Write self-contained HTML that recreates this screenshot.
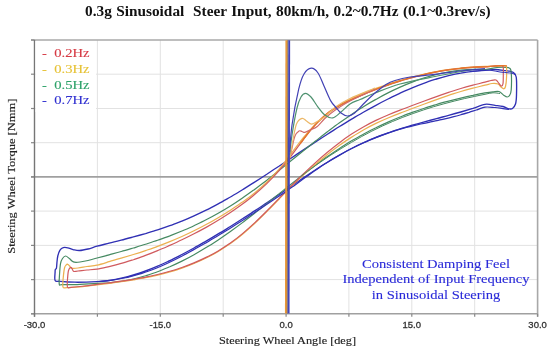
<!DOCTYPE html>
<html><head><meta charset="utf-8"><style>
html,body{margin:0;padding:0;background:#fff;}
body{width:550px;height:351px;position:relative;overflow:hidden;}
svg{position:absolute;left:0;top:0;}
.t{position:absolute;white-space:pre;font-family:"Liberation Serif",serif;line-height:1;}
#title{left:85px;top:5.1px;font-size:14px;font-weight:bold;color:#111;word-spacing:0.5px;transform:scaleX(1.094);transform-origin:0 0;}
#xl{left:219.4px;top:334.6px;font-size:11px;color:#222;-webkit-text-stroke:0.15px #222;transform:scaleX(1.115);transform-origin:0 0;}
#yl{left:0;top:0;font-size:11px;color:#222;-webkit-text-stroke:0.15px #222;transform-origin:0 0;}
.lg{font-size:12.4px;-webkit-text-stroke:0.12px currentColor;transform:scaleX(1.18);transform-origin:0 0;}
#note{font-size:12.4px;color:#2a2ad8;-webkit-text-stroke:0.1px #2a2ad8;text-align:center;transform:scaleX(1.175);transform-origin:100px 0;}
</style></head><body>
<svg width="550" height="351" viewBox="0 0 550 351">
<g stroke="#e2e2e2" stroke-width="1"><line x1="97.4" y1="40.0" x2="97.4" y2="313.8"/><line x1="160.3" y1="40.0" x2="160.3" y2="313.8"/><line x1="223.2" y1="40.0" x2="223.2" y2="313.8"/><line x1="286.1" y1="40.0" x2="286.1" y2="313.8"/><line x1="348.9" y1="40.0" x2="348.9" y2="313.8"/><line x1="411.8" y1="40.0" x2="411.8" y2="313.8"/><line x1="474.7" y1="40.0" x2="474.7" y2="313.8"/><line x1="34.5" y1="74.2" x2="537.6" y2="74.2"/><line x1="34.5" y1="108.5" x2="537.6" y2="108.5"/><line x1="34.5" y1="142.7" x2="537.6" y2="142.7"/><line x1="34.5" y1="211.1" x2="537.6" y2="211.1"/><line x1="34.5" y1="245.4" x2="537.6" y2="245.4"/><line x1="34.5" y1="279.6" x2="537.6" y2="279.6"/></g>
<line x1="31" y1="40.0" x2="537.6" y2="40.0" stroke="#a8a8a8" stroke-width="1.6"/>
<line x1="537.6" y1="40.0" x2="537.6" y2="316.8" stroke="#a8a8a8" stroke-width="1.6"/>
<line x1="31" y1="176.9" x2="537.6" y2="176.9" stroke="#a0a0a0" stroke-width="1.8"/>
<line x1="31" y1="313.8" x2="537.6" y2="313.8" stroke="#a0a0a0" stroke-width="1.6"/>
<g stroke="#888" stroke-width="1.2"><line x1="31" y1="40.0" x2="34.5" y2="40.0"/><line x1="34.5" y1="313.8" x2="34.5" y2="316.8"/><line x1="31" y1="74.2" x2="34.5" y2="74.2"/><line x1="97.4" y1="313.8" x2="97.4" y2="316.8"/><line x1="31" y1="108.5" x2="34.5" y2="108.5"/><line x1="160.3" y1="313.8" x2="160.3" y2="316.8"/><line x1="31" y1="142.7" x2="34.5" y2="142.7"/><line x1="223.2" y1="313.8" x2="223.2" y2="316.8"/><line x1="31" y1="176.9" x2="34.5" y2="176.9"/><line x1="286.1" y1="313.8" x2="286.1" y2="316.8"/><line x1="31" y1="211.1" x2="34.5" y2="211.1"/><line x1="348.9" y1="313.8" x2="348.9" y2="316.8"/><line x1="31" y1="245.4" x2="34.5" y2="245.4"/><line x1="411.8" y1="313.8" x2="411.8" y2="316.8"/><line x1="31" y1="279.6" x2="34.5" y2="279.6"/><line x1="474.7" y1="313.8" x2="474.7" y2="316.8"/><line x1="31" y1="313.8" x2="34.5" y2="313.8"/><line x1="537.6" y1="313.8" x2="537.6" y2="316.8"/></g>
<line x1="34.5" y1="40.0" x2="34.5" y2="316.8" stroke="#767676" stroke-width="1.4"/>
<rect x="35.5" y="41" width="60.5" height="71" fill="#fff"/>
<path d="M55.1,280.5 C54.3,278.9 55.1,273.8 55.1,272.0 C55.1,270.2 55.1,270.2 55.3,269.6 C55.5,269.0 56.1,269.5 56.4,268.4 C56.7,267.3 56.7,265.1 56.9,263.0 C57.1,260.9 57.3,258.1 57.8,256.0 C58.3,253.9 59.1,251.6 60.0,250.2 C60.9,248.8 62.0,248.0 63.3,247.6 C64.6,247.2 66.1,247.4 67.8,247.8 C69.5,248.2 71.7,249.4 73.7,249.8 C75.7,250.2 77.2,250.6 79.6,250.5 C82.0,250.4 85.1,249.7 88.0,249.0 C90.9,248.3 93.5,247.2 97.0,246.2 C100.5,245.2 105.1,244.2 109.1,243.2 C113.2,242.1 117.2,241.1 121.2,240.1 C125.3,239.1 129.3,238.0 133.4,236.9 C137.4,235.8 141.5,234.7 145.5,233.6 C149.5,232.4 153.6,231.2 157.6,229.9 C161.7,228.6 165.7,227.2 169.8,225.7 C173.8,224.3 177.8,222.7 181.9,221.1 C185.9,219.5 190.0,217.8 194.0,215.9 C198.0,214.1 202.1,212.2 206.1,210.2 C210.2,208.2 214.2,206.0 218.2,203.8 C222.3,201.6 226.3,199.3 230.4,197.0 C234.4,194.6 238.5,192.2 242.5,189.7 C246.5,187.2 250.6,184.7 254.6,182.1 C258.7,179.5 262.7,176.9 266.8,174.3 C270.8,171.6 274.8,168.9 278.9,166.3 C282.9,163.6 287.0,160.9 291.0,158.2 C295.0,155.5 299.1,152.8 303.1,150.1 C307.2,147.4 311.2,144.7 315.2,142.1 C319.3,139.4 323.3,136.8 327.4,134.2 C331.4,131.6 335.5,129.1 339.5,126.5 C343.5,124.0 347.6,121.6 351.6,119.1 C355.7,116.7 359.7,114.3 363.8,112.0 C367.8,109.7 371.8,107.5 375.9,105.3 C379.9,103.1 384.0,101.0 388.0,99.0 C392.0,96.9 396.1,95.0 400.1,93.1 C404.2,91.3 408.2,89.5 412.2,87.8 C416.3,86.1 420.3,84.6 424.4,83.1 C428.4,81.6 432.5,80.3 436.5,79.0 C440.5,77.8 444.6,76.7 448.6,75.7 C452.7,74.7 456.7,73.8 460.8,73.1 C464.8,72.3 468.8,71.7 472.9,71.3 C476.9,70.8 481.3,70.6 485.0,70.3 C488.7,70.1 491.7,69.5 495.0,69.5 C498.3,69.5 502.1,70.2 505.0,70.6 C507.9,71.0 510.6,70.9 512.5,72.0 C514.4,73.1 515.5,73.2 516.2,77.0 C516.9,80.8 516.6,90.5 516.5,95.0 C516.4,99.5 516.2,101.8 515.5,104.0 C514.8,106.2 513.6,107.7 512.5,108.5 C511.4,109.3 510.6,109.1 509.0,108.8 C507.4,108.5 505.3,107.1 503.0,106.5 C500.7,105.9 498.0,105.7 495.0,105.3 C492.0,104.9 488.7,103.8 485.0,104.3 C481.3,104.8 476.9,107.1 472.9,108.4 C468.8,109.6 464.8,110.8 460.8,112.0 C456.7,113.2 452.7,114.3 448.6,115.4 C444.6,116.5 440.5,117.5 436.5,118.6 C432.5,119.7 428.4,120.8 424.4,121.9 C420.3,123.0 416.3,124.1 412.2,125.2 C408.2,126.4 404.2,127.6 400.1,128.9 C396.1,130.2 392.0,131.5 388.0,133.0 C384.0,134.4 379.9,135.9 375.9,137.5 C371.8,139.1 367.8,140.8 363.8,142.7 C359.7,144.5 355.7,146.4 351.6,148.5 C347.6,150.6 343.5,152.8 339.5,155.1 C335.5,157.4 331.4,159.8 327.4,162.3 C323.3,164.8 319.3,167.4 315.2,170.0 C311.2,172.6 307.2,175.3 303.1,178.1 C299.1,180.8 295.0,183.6 291.0,186.3 C287.0,189.1 282.9,191.8 278.9,194.6 C274.8,197.3 270.8,200.1 266.8,202.8 C262.7,205.5 258.7,208.3 254.6,210.9 C250.6,213.6 246.5,216.2 242.5,218.8 C238.5,221.4 234.4,224.0 230.4,226.5 C226.3,229.0 222.3,231.5 218.2,233.9 C214.2,236.4 210.2,238.8 206.1,241.1 C202.1,243.4 198.0,245.8 194.0,248.0 C190.0,250.2 185.9,252.4 181.9,254.5 C177.8,256.6 173.8,258.7 169.8,260.6 C165.7,262.5 161.7,264.4 157.6,266.1 C153.6,267.8 149.5,269.5 145.5,271.0 C141.5,272.5 137.4,273.8 133.4,275.0 C129.3,276.3 125.3,277.3 121.2,278.2 C117.2,279.2 113.2,279.9 109.1,280.5 C105.1,281.0 102.7,281.4 97.0,281.6 C91.3,281.9 81.2,282.3 75.0,282.2 C68.8,282.1 63.3,281.6 60.0,281.3 C56.7,281.0 55.9,282.1 55.1,280.5Z" fill="none" stroke="#3030b4" stroke-width="1.35" stroke-linejoin="round"/>
<path d="M59.3,284.4 C58.9,282.8 59.3,278.4 59.5,275.0 C59.7,271.6 60.0,266.4 60.5,263.7 C61.0,260.9 61.6,259.8 62.5,258.5 C63.4,257.2 64.5,256.0 65.6,256.0 C66.7,256.0 68.2,257.7 69.3,258.5 C70.4,259.3 71.2,260.4 72.0,261.0 C72.8,261.6 73.1,262.0 74.4,262.2 C75.7,262.4 77.7,262.3 80.0,262.0 C82.3,261.7 85.2,261.2 88.0,260.5 C90.8,259.8 93.5,259.0 97.0,258.0 C100.5,257.1 105.1,255.9 109.1,254.8 C113.2,253.7 117.2,252.7 121.2,251.5 C125.3,250.4 129.3,249.2 133.4,248.0 C137.4,246.8 141.5,245.6 145.5,244.3 C149.5,243.0 153.6,241.7 157.6,240.3 C161.7,238.9 165.7,237.4 169.8,235.9 C173.8,234.3 177.8,232.7 181.9,231.0 C185.9,229.3 190.0,227.6 194.0,225.7 C198.0,223.8 202.1,221.9 206.1,219.8 C210.2,217.7 214.2,215.6 218.2,213.3 C222.3,211.0 226.3,208.6 230.4,206.0 C234.4,203.5 238.5,200.8 242.5,198.0 C246.5,195.3 250.6,192.3 254.6,189.4 C258.7,186.4 262.7,183.3 266.8,180.2 C270.8,177.0 274.8,173.8 278.9,170.6 C282.9,167.4 287.0,164.1 291.0,160.8 C295.0,157.6 299.1,154.3 303.1,151.0 C307.2,147.8 311.2,144.5 315.2,141.3 C319.3,138.1 323.3,134.9 327.4,131.8 C331.4,128.8 335.5,125.7 339.5,122.8 C343.5,119.9 347.6,117.1 351.6,114.4 C355.7,111.7 359.7,109.0 363.8,106.5 C367.8,104.0 371.8,101.6 375.9,99.4 C379.9,97.1 384.0,94.9 388.0,92.9 C392.0,90.8 396.1,88.9 400.1,87.1 C404.2,85.3 408.2,83.6 412.2,82.1 C416.3,80.5 420.3,79.1 424.4,77.8 C428.4,76.6 432.5,75.4 436.5,74.4 C440.5,73.4 444.6,72.6 448.6,71.8 C452.7,71.1 456.7,70.5 460.8,70.1 C464.8,69.7 468.8,69.4 472.9,69.3 C476.9,69.2 481.0,69.8 485.0,69.5 C489.0,69.2 493.5,67.9 497.0,67.5 C500.5,67.1 503.8,67.1 506.0,67.3 C508.2,67.5 509.1,67.5 510.0,68.5 C510.9,69.5 511.1,69.4 511.3,73.0 C511.5,76.6 511.5,86.2 511.2,90.0 C510.9,93.8 510.2,94.3 509.5,95.5 C508.8,96.7 508.1,97.0 507.2,97.0 C506.3,97.0 505.4,96.4 504.0,95.5 C502.6,94.6 500.8,92.1 499.0,91.5 C497.2,90.9 495.3,91.6 493.0,91.8 C490.7,92.0 488.4,92.3 485.0,92.9 C481.6,93.5 476.9,94.5 472.9,95.4 C468.8,96.2 464.8,97.1 460.8,98.1 C456.7,99.1 452.7,100.1 448.6,101.1 C444.6,102.2 440.5,103.3 436.5,104.5 C432.5,105.7 428.4,106.9 424.4,108.2 C420.3,109.5 416.3,110.9 412.2,112.4 C408.2,113.8 404.2,115.4 400.1,117.0 C396.1,118.6 392.0,120.3 388.0,122.1 C384.0,123.9 379.9,125.8 375.9,127.8 C371.8,129.7 367.8,131.8 363.8,134.0 C359.7,136.2 355.7,138.5 351.6,140.8 C347.6,143.2 343.5,145.7 339.5,148.4 C335.5,151.0 331.4,153.7 327.4,156.6 C323.3,159.4 319.3,162.4 315.2,165.4 C311.2,168.4 307.2,171.5 303.1,174.6 C299.1,177.8 295.0,181.0 291.0,184.2 C287.0,187.4 282.9,190.6 278.9,193.9 C274.8,197.1 270.8,200.4 266.8,203.6 C262.7,206.8 258.7,210.1 254.6,213.2 C250.6,216.4 246.5,219.5 242.5,222.6 C238.5,225.6 234.4,228.6 230.4,231.5 C226.3,234.4 222.3,237.2 218.2,239.9 C214.2,242.6 210.2,245.2 206.1,247.6 C202.1,250.1 198.0,252.5 194.0,254.7 C190.0,257.0 185.9,259.1 181.9,261.1 C177.8,263.1 173.8,265.0 169.8,266.8 C165.7,268.5 161.7,270.2 157.6,271.7 C153.6,273.2 149.5,274.5 145.5,275.8 C141.5,277.0 137.4,278.1 133.4,279.0 C129.3,279.9 125.3,280.7 121.2,281.4 C117.2,282.0 113.2,282.5 109.1,282.8 C105.1,283.1 102.7,283.0 97.0,283.3 C91.3,283.6 80.8,284.4 75.0,284.6 C69.2,284.8 64.6,284.6 62.0,284.6 C59.4,284.6 59.7,286.0 59.3,284.4Z" fill="none" stroke="#468a62" stroke-width="1.2" stroke-linejoin="round"/>
<path d="M63.0,287.1 C62.4,285.5 63.0,281.2 63.2,278.0 C63.5,274.8 64.0,270.2 64.5,268.0 C65.0,265.8 65.8,265.4 66.3,264.8 C66.8,264.2 67.2,264.1 67.8,264.4 C68.4,264.6 69.2,265.7 69.8,266.3 C70.4,266.9 70.1,267.8 71.5,268.1 C72.9,268.4 75.4,268.3 78.0,268.0 C80.6,267.7 83.8,267.0 87.0,266.5 C90.2,266.0 93.3,265.9 97.0,265.1 C100.7,264.4 105.1,262.9 109.1,261.7 C113.2,260.6 117.2,259.4 121.2,258.2 C125.3,257.0 129.3,255.8 133.4,254.5 C137.4,253.3 141.5,252.0 145.5,250.6 C149.5,249.2 153.6,247.8 157.6,246.3 C161.7,244.8 165.7,243.3 169.8,241.6 C173.8,240.0 177.8,238.3 181.9,236.5 C185.9,234.7 190.0,232.8 194.0,230.8 C198.0,228.8 202.1,226.7 206.1,224.5 C210.2,222.4 214.2,220.1 218.2,217.7 C222.3,215.3 226.3,212.8 230.4,210.2 C234.4,207.6 238.5,205.0 242.5,202.1 C246.5,199.2 250.6,196.3 254.6,193.0 C258.7,189.7 262.7,186.2 266.8,182.2 C270.8,178.3 274.8,174.1 278.9,169.4 C282.9,164.6 287.0,159.1 291.0,153.9 C295.0,148.6 299.1,142.8 303.1,137.9 C307.2,133.0 311.2,128.6 315.2,124.6 C319.3,120.7 323.3,117.2 327.4,114.0 C331.4,110.8 335.5,108.0 339.5,105.5 C343.5,102.9 347.6,100.7 351.6,98.7 C355.7,96.6 359.7,94.9 363.8,93.2 C367.8,91.4 371.8,89.9 375.9,88.4 C379.9,87.0 384.0,85.6 388.0,84.2 C392.0,82.9 396.1,81.6 400.1,80.4 C404.2,79.2 408.2,78.1 412.2,77.0 C416.3,76.0 420.3,75.0 424.4,74.1 C428.4,73.2 432.5,72.3 436.5,71.6 C440.5,70.8 444.6,70.1 448.6,69.6 C452.7,69.0 456.7,68.4 460.8,68.0 C464.8,67.6 468.8,67.2 472.9,67.0 C476.9,66.7 481.3,66.5 485.0,66.4 C488.7,66.3 492.0,66.4 495.0,66.3 C498.0,66.2 501.1,65.7 503.0,65.8 C504.9,65.9 505.8,65.0 506.4,67.0 C507.0,69.0 506.6,74.8 506.5,78.0 C506.4,81.2 505.9,84.7 505.5,86.5 C505.1,88.3 504.6,88.7 503.8,88.8 C503.1,88.9 502.0,87.8 501.0,87.0 C500.0,86.2 499.5,84.6 498.0,84.0 C496.5,83.4 494.2,83.3 492.0,83.5 C489.8,83.7 488.2,84.5 485.0,85.2 C481.8,86.0 476.9,87.1 472.9,88.1 C468.8,89.2 464.8,90.3 460.8,91.5 C456.7,92.7 452.7,94.1 448.6,95.4 C444.6,96.7 440.5,98.2 436.5,99.6 C432.5,101.0 428.4,102.5 424.4,104.0 C420.3,105.5 416.3,107.0 412.2,108.5 C408.2,110.0 404.2,111.5 400.1,113.1 C396.1,114.6 392.0,116.2 388.0,118.0 C384.0,119.7 379.9,121.5 375.9,123.4 C371.8,125.4 367.8,127.4 363.8,129.7 C359.7,132.0 355.7,134.5 351.6,137.1 C347.6,139.7 343.5,142.4 339.5,145.2 C335.5,148.1 331.4,151.2 327.4,154.4 C323.3,157.6 319.3,161.0 315.2,164.5 C311.2,168.0 307.2,171.6 303.1,175.4 C299.1,179.1 295.0,182.9 291.0,186.9 C287.0,190.8 282.9,195.1 278.9,199.2 C274.8,203.4 270.8,207.6 266.8,211.6 C262.7,215.7 258.7,219.7 254.6,223.5 C250.6,227.2 246.5,230.9 242.5,234.2 C238.5,237.6 234.4,240.7 230.4,243.6 C226.3,246.4 222.3,249.0 218.2,251.5 C214.2,253.9 210.2,256.0 206.1,258.0 C202.1,260.0 198.0,261.8 194.0,263.5 C190.0,265.2 185.9,266.7 181.9,268.1 C177.8,269.5 173.8,270.7 169.8,271.9 C165.7,273.1 161.7,274.1 157.6,275.1 C153.6,276.0 149.5,276.9 145.5,277.7 C141.5,278.5 137.4,279.2 133.4,279.9 C129.3,280.6 125.3,281.2 121.2,281.7 C117.2,282.3 113.2,282.9 109.1,283.4 C105.1,283.9 101.9,284.4 97.0,284.9 C92.1,285.5 85.0,286.4 80.0,286.8 C75.0,287.2 69.8,287.6 67.0,287.6 C64.2,287.7 63.6,288.7 63.0,287.1Z" fill="none" stroke="#ecb050" stroke-width="1.25" stroke-linejoin="round"/>
<path d="M67.5,287.1 C66.9,285.6 67.4,280.8 67.6,278.0 C67.8,275.2 68.0,272.3 68.5,270.5 C69.0,268.7 70.1,267.6 70.7,267.4 C71.3,267.1 71.7,268.3 72.2,269.0 C72.7,269.7 72.7,271.1 73.7,271.4 C74.7,271.7 75.8,271.2 78.0,271.0 C80.2,270.8 83.8,270.3 87.0,270.0 C90.2,269.7 93.3,269.7 97.0,269.1 C100.7,268.6 105.1,267.5 109.1,266.6 C113.2,265.6 117.2,264.6 121.2,263.4 C125.3,262.3 129.3,261.0 133.4,259.7 C137.4,258.3 141.5,256.9 145.5,255.4 C149.5,253.9 153.6,252.3 157.6,250.6 C161.7,249.0 165.7,247.2 169.8,245.4 C173.8,243.6 177.8,241.8 181.9,239.8 C185.9,237.9 190.0,235.9 194.0,233.8 C198.0,231.8 202.1,229.6 206.1,227.4 C210.2,225.1 214.2,222.8 218.2,220.3 C222.3,217.9 226.3,215.3 230.4,212.6 C234.4,209.9 238.5,207.1 242.5,204.1 C246.5,201.1 250.6,198.0 254.6,194.5 C258.7,191.1 262.7,187.5 266.8,183.6 C270.8,179.7 274.8,175.5 278.9,170.9 C282.9,166.4 287.0,161.4 291.0,156.2 C295.0,151.0 299.1,145.1 303.1,139.8 C307.2,134.6 311.2,129.3 315.2,124.9 C319.3,120.4 323.3,116.6 327.4,113.4 C331.4,110.2 335.5,107.9 339.5,105.6 C343.5,103.3 347.6,101.5 351.6,99.7 C355.7,97.8 359.7,96.1 363.8,94.4 C367.8,92.7 371.8,91.1 375.9,89.5 C379.9,88.0 384.0,86.5 388.0,85.1 C392.0,83.7 396.1,82.4 400.1,81.1 C404.2,79.9 408.2,78.7 412.2,77.6 C416.3,76.5 420.3,75.5 424.4,74.5 C428.4,73.6 432.5,72.8 436.5,72.0 C440.5,71.2 444.6,70.5 448.6,69.9 C452.7,69.3 456.7,68.8 460.8,68.4 C464.8,68.0 468.8,67.7 472.9,67.4 C476.9,67.2 481.3,67.2 485.0,67.0 C488.7,66.7 492.3,66.0 495.0,65.8 C497.7,65.6 499.6,65.5 501.0,65.7 C502.4,65.9 502.8,65.5 503.2,67.0 C503.6,68.5 503.3,72.2 503.3,75.0 C503.3,77.8 503.3,81.7 503.0,83.6 C502.7,85.5 502.2,86.2 501.5,86.2 C500.8,86.2 499.9,84.5 499.0,83.5 C498.1,82.5 497.3,80.5 496.0,80.0 C494.7,79.5 492.8,80.1 491.0,80.5 C489.2,80.9 488.0,81.5 485.0,82.2 C482.0,83.0 476.9,84.1 472.9,85.1 C468.8,86.2 464.8,87.3 460.8,88.5 C456.7,89.7 452.7,91.1 448.6,92.4 C444.6,93.7 440.5,95.2 436.5,96.6 C432.5,98.0 428.4,99.5 424.4,101.0 C420.3,102.5 416.3,104.0 412.2,105.5 C408.2,107.0 404.2,108.5 400.1,110.1 C396.1,111.6 392.0,113.2 388.0,115.0 C384.0,116.7 379.9,118.5 375.9,120.4 C371.8,122.4 367.8,124.4 363.8,126.7 C359.7,129.0 355.7,131.4 351.6,134.1 C347.6,136.7 343.5,139.6 339.5,142.7 C335.5,145.7 331.4,148.9 327.4,152.3 C323.3,155.7 319.3,159.2 315.2,162.9 C311.2,166.5 307.2,170.3 303.1,174.2 C299.1,178.1 295.0,182.1 291.0,186.2 C287.0,190.3 282.9,194.5 278.9,198.6 C274.8,202.8 270.8,207.0 266.8,211.0 C262.7,215.1 258.7,219.1 254.6,222.9 C250.6,226.6 246.5,230.3 242.5,233.6 C238.5,237.0 234.4,240.1 230.4,243.0 C226.3,245.8 222.3,248.4 218.2,250.9 C214.2,253.3 210.2,255.4 206.1,257.4 C202.1,259.4 198.0,261.2 194.0,262.9 C190.0,264.6 185.9,266.1 181.9,267.5 C177.8,268.9 173.8,270.1 169.8,271.3 C165.7,272.5 161.7,273.5 157.6,274.5 C153.6,275.4 149.5,276.3 145.5,277.1 C141.5,277.9 137.4,278.6 133.4,279.3 C129.3,280.0 125.3,280.6 121.2,281.1 C117.2,281.7 113.2,282.3 109.1,282.8 C105.1,283.3 101.9,283.7 97.0,284.3 C92.1,285.0 84.3,286.0 80.0,286.5 C75.7,287.0 73.1,287.2 71.0,287.3 C68.9,287.4 68.1,288.7 67.5,287.1Z" fill="none" stroke="#d05a5e" stroke-width="1.2" stroke-linejoin="round"/>
<path d="M100.0,281.5 C101.3,281.3 105.3,281.0 108.0,280.7 C110.7,280.4 113.4,280.0 116.0,279.5 C118.7,279.1 121.4,278.6 124.1,278.0 C126.7,277.5 129.4,276.8 132.1,276.1 C134.8,275.4 137.4,274.7 140.1,273.9 C142.8,273.0 145.5,272.2 148.1,271.2 C150.8,270.3 153.5,269.3 156.1,268.2 C158.8,267.1 161.5,266.0 164.2,264.8 C166.8,263.6 169.5,262.3 172.2,261.0 C174.9,259.7 177.5,258.4 180.2,257.0 C182.9,255.6 185.6,254.2 188.2,252.8 C190.9,251.3 193.6,249.8 196.2,248.3 C198.9,246.8 201.6,245.3 204.3,243.8 C206.9,242.2 209.6,240.7 212.3,239.1 C215.0,237.5 217.6,235.9 220.3,234.3 C223.0,232.7 225.7,231.0 228.3,229.4 C231.0,227.7 233.7,226.0 236.4,224.3 C239.0,222.6 241.7,220.9 244.4,219.2 C247.0,217.5 249.7,215.7 252.4,214.0 C255.1,212.2 257.7,210.5 260.4,208.7 C263.1,206.9 265.8,205.1 268.4,203.3 C271.1,201.5 273.8,199.7 276.5,197.8 C279.1,196.0 281.8,194.2 284.5,192.4 C287.2,190.5 289.8,188.7 292.5,186.8 C295.2,184.9 297.8,182.9 300.5,181.0 C303.2,179.0 305.9,177.1 308.5,175.2 C311.2,173.3 313.9,171.3 316.6,169.5 C319.2,167.6 321.9,165.8 324.6,164.1 C327.3,162.4 329.9,160.7 332.6,159.1 C335.3,157.5 338.0,155.9 340.6,154.4 C343.3,152.9 346.0,151.5 348.6,150.0 C351.3,148.6 354.0,147.3 356.7,146.0 C359.3,144.7 362.0,143.5 364.7,142.3 C367.4,141.1 370.0,139.9 372.7,138.8 C375.4,137.7 378.1,136.6 380.7,135.6 C383.4,134.6 386.1,133.6 388.8,132.7 C391.4,131.8 394.1,130.9 396.8,130.1 C399.4,129.2 402.1,128.5 404.8,127.8 C407.5,127.1 410.1,126.4 412.8,125.8 C415.5,125.2 418.2,124.6 420.8,124.0 C423.5,123.4 426.2,122.8 428.9,122.3 C431.5,121.7 434.2,121.2 436.9,120.6 C439.5,120.0 442.2,119.5 444.9,118.8 C447.6,118.2 450.2,117.6 452.9,116.9 C455.6,116.2 458.3,115.5 460.9,114.7 C463.6,114.0 466.3,113.2 469.0,112.4 C471.6,111.5 474.3,110.7 477.0,109.8 C479.7,109.0 482.0,107.5 485.0,107.1 C488.0,106.7 492.0,107.3 495.0,107.5 C498.0,107.7 500.7,108.3 503.0,108.6 C505.3,108.9 508.0,109.3 509.0,109.5" fill="none" stroke="#3030b4" stroke-width="1.2" stroke-linejoin="round"/>
<path d="M470.0,71.5 C471.7,71.3 476.7,70.8 480.0,70.6 C483.3,70.4 486.7,70.0 490.0,70.2 C493.3,70.4 497.0,71.6 500.0,72.0 C503.0,72.4 505.8,72.5 508.0,72.8 C510.2,73.0 511.7,73.0 513.0,73.5 C514.3,74.0 515.5,75.6 516.0,76.0" fill="none" stroke="#3030b4" stroke-width="1.0" stroke-linejoin="round"/>
<path d="M300.0,143.9 C302.1,141.2 308.2,132.7 312.3,128.0 C316.4,123.2 320.6,119.0 324.7,115.4 C328.8,111.9 332.9,109.2 337.0,106.8 C341.1,104.3 345.2,102.5 349.3,100.5 C353.4,98.6 357.6,96.8 361.7,95.1 C365.8,93.3 369.9,91.7 374.0,90.1 C378.1,88.5 382.2,86.9 386.3,85.5 C390.4,84.0 394.6,82.7 398.7,81.4 C402.8,80.1 406.9,78.9 411.0,77.7 C415.1,76.6 419.2,75.6 423.3,74.6 C427.4,73.6 431.6,72.7 435.7,71.9 C439.8,71.2 443.9,70.4 448.0,69.8 C452.1,69.2 456.2,68.7 460.3,68.3 C464.4,67.8 468.6,67.5 472.7,67.2 C476.8,67.0 481.3,67.0 485.0,66.8 C488.7,66.5 492.0,66.0 495.0,65.8 C498.0,65.6 501.0,65.6 503.0,65.6 C505.0,65.6 506.3,65.9 507.0,66.0" fill="none" stroke="#e6772a" stroke-width="1.3" stroke-linejoin="round"/>
<path d="M300.0,177.1 C301.7,175.8 306.9,171.8 310.3,169.3 C313.7,166.8 317.1,164.3 320.6,162.0 C324.0,159.6 327.4,157.3 330.8,155.1 C334.3,152.9 337.7,150.7 341.1,148.6 C344.5,146.5 348.0,144.4 351.4,142.4 C354.8,140.4 358.2,138.4 361.7,136.5 C365.1,134.6 368.5,132.8 371.9,131.1 C375.4,129.4 378.8,127.7 382.2,126.1 C385.6,124.5 389.1,123.0 392.5,121.5 C395.9,120.1 399.4,118.7 402.8,117.3 C406.2,116.0 409.6,114.7 413.1,113.5 C416.5,112.3 419.9,111.1 423.3,110.0 C426.8,108.8 430.2,107.8 433.6,106.7 C437.0,105.7 440.5,104.7 443.9,103.8 C447.3,102.9 450.7,102.0 454.2,101.1 C457.6,100.2 461.0,99.4 464.4,98.6 C467.9,97.8 471.3,97.1 474.7,96.4 C478.1,95.6 482.0,94.9 485.0,94.3 C488.0,93.7 490.5,92.9 493.0,92.8 C495.5,92.7 498.8,93.4 500.0,93.5" fill="none" stroke="#468a62" stroke-width="1.0" stroke-linejoin="round"/>
<path d="M289.0,162.0 C289.5,159.7 291.0,152.3 292.0,148.0 C293.0,143.7 293.8,138.8 295.0,136.0 C296.2,133.2 297.8,131.8 299.0,131.0 C300.2,130.2 301.0,131.3 302.0,131.5 C303.0,131.7 303.5,132.6 304.8,132.3 C306.1,132.1 307.9,131.0 310.0,130.0 C312.1,129.0 314.8,128.3 317.3,126.4 C319.8,124.5 321.7,121.3 324.8,118.5 C327.9,115.7 331.8,112.4 336.0,109.5 C340.2,106.6 343.5,104.4 350.0,101.0 C356.5,97.6 370.8,91.0 375.0,89.0" fill="none" stroke="#d06a6a" stroke-width="1.2" stroke-linejoin="round"/>
<path d="M290.0,158.0 C290.5,155.0 291.9,145.7 293.0,140.0 C294.1,134.3 295.0,127.6 296.5,124.0 C298.0,120.4 300.3,118.9 302.0,118.4 C303.7,117.9 304.9,120.0 306.5,121.0 C308.1,122.0 309.7,124.2 311.6,124.2 C313.5,124.2 315.9,122.2 318.0,121.0 C320.1,119.8 321.2,119.7 324.2,117.3 C327.2,114.9 331.9,109.6 336.2,106.5 C340.5,103.4 343.5,101.6 350.0,98.5 C356.5,95.4 370.8,89.8 375.0,88.0" fill="none" stroke="#ecb868" stroke-width="1.2" stroke-linejoin="round"/>
<path d="M289.5,155.0 C289.9,151.7 290.8,142.8 292.0,135.0 C293.2,127.2 295.5,114.3 297.0,108.0 C298.5,101.7 299.6,99.5 301.0,97.0 C302.4,94.5 303.8,93.3 305.5,93.3 C307.2,93.3 308.9,94.7 311.0,97.0 C313.1,99.3 315.7,104.1 318.0,107.1 C320.3,110.1 322.3,113.2 324.8,115.0 C327.3,116.8 330.1,118.4 332.8,117.9 C335.5,117.4 338.1,114.3 341.0,112.0 C343.9,109.7 346.8,106.1 350.0,104.0 C353.2,101.9 355.8,101.3 360.0,99.5 C364.2,97.7 368.3,95.6 375.0,93.0 C381.7,90.4 390.0,86.8 400.0,84.0 C410.0,81.2 422.3,79.0 435.0,76.5 C447.7,74.0 469.2,70.2 476.0,69.0" fill="none" stroke="#4f9270" stroke-width="1.2" stroke-linejoin="round"/>
<path d="M289.6,152.0 C290.0,147.5 290.5,135.5 292.0,125.0 C293.5,114.5 296.7,97.7 298.7,89.2 C300.7,80.7 301.9,77.5 304.0,74.0 C306.1,70.5 308.9,68.4 311.2,68.2 C313.5,68.0 315.9,70.0 318.0,73.0 C320.1,76.0 321.9,81.4 324.0,86.0 C326.1,90.6 328.6,97.0 330.6,100.6 C332.6,104.2 334.3,105.4 336.0,107.5 C337.7,109.6 339.1,111.6 341.0,113.0 C342.9,114.4 345.3,115.9 347.5,116.0 C349.7,116.1 351.6,115.2 354.0,113.5 C356.4,111.8 359.3,108.2 362.0,105.5 C364.7,102.8 367.3,100.0 370.0,97.5 C372.7,95.0 375.3,92.7 378.0,90.5 C380.7,88.3 383.2,86.2 386.0,84.5 C388.8,82.8 391.0,81.8 395.0,80.5 C399.0,79.2 403.3,78.0 410.0,77.0 C416.7,76.0 426.7,75.4 435.0,74.4 C443.3,73.4 451.7,72.0 460.0,71.0 C468.3,70.0 480.8,68.9 485.0,68.5" fill="none" stroke="#4141b4" stroke-width="1.2" stroke-linejoin="round"/>
<line x1="286.5" y1="40.3" x2="286.0" y2="313.5" stroke="#e8983a" stroke-width="2.1"/>
<line x1="287.8" y1="40.3" x2="287.3" y2="313.5" stroke="#6a5a48" stroke-width="0.8"/>
<line x1="289.2" y1="40.3" x2="288.6" y2="313.5" stroke="#4444b8" stroke-width="1.9"/>
<text x="34.5" y="327.9" text-anchor="middle" font-family="Liberation Sans, sans-serif" font-size="9.5" fill="#333" stroke="#333" stroke-width="0.3">-30.0</text>
<text x="160.3" y="327.9" text-anchor="middle" font-family="Liberation Sans, sans-serif" font-size="9.5" fill="#333" stroke="#333" stroke-width="0.3">-15.0</text>
<text x="286.1" y="327.9" text-anchor="middle" font-family="Liberation Sans, sans-serif" font-size="9.5" fill="#333" stroke="#333" stroke-width="0.3">0.0</text>
<text x="411.8" y="327.9" text-anchor="middle" font-family="Liberation Sans, sans-serif" font-size="9.5" fill="#333" stroke="#333" stroke-width="0.3">15.0</text>
<text x="537.6" y="327.9" text-anchor="middle" font-family="Liberation Sans, sans-serif" font-size="9.5" fill="#333" stroke="#333" stroke-width="0.3">30.0</text>
</svg>
<div class="t" id="title">0.3g Sinusoidal  Steer Input, 80km/h, 0.2~0.7Hz (0.1~0.3rev/s)</div>
<div class="t" id="xl">Steering Wheel Angle [deg]</div>
<div class="t" id="yl" style="transform:translate(6px,253.8px) rotate(-90deg) scaleX(1.136);">Steering Wheel Torque [Nmm]</div>
<div class="t lg" style="left:41.7px;top:47.4px;color:#d63a44">-&#160;&#160;0.2Hz</div>
<div class="t lg" style="left:41.7px;top:63.4px;color:#e6c236">-&#160;&#160;0.3Hz</div>
<div class="t lg" style="left:41.7px;top:78.8px;color:#2ea26a">-&#160;&#160;0.5Hz</div>
<div class="t lg" style="left:41.7px;top:94.4px;color:#3030d0">-&#160;&#160;0.7Hz</div>
<div class="t" id="note" style="left:335.6px;top:256.5px;width:200px;line-height:15.5px;">Consistent Damping Feel
Independent of Input Frequency
in Sinusoidal Steering</div>
</body></html>
